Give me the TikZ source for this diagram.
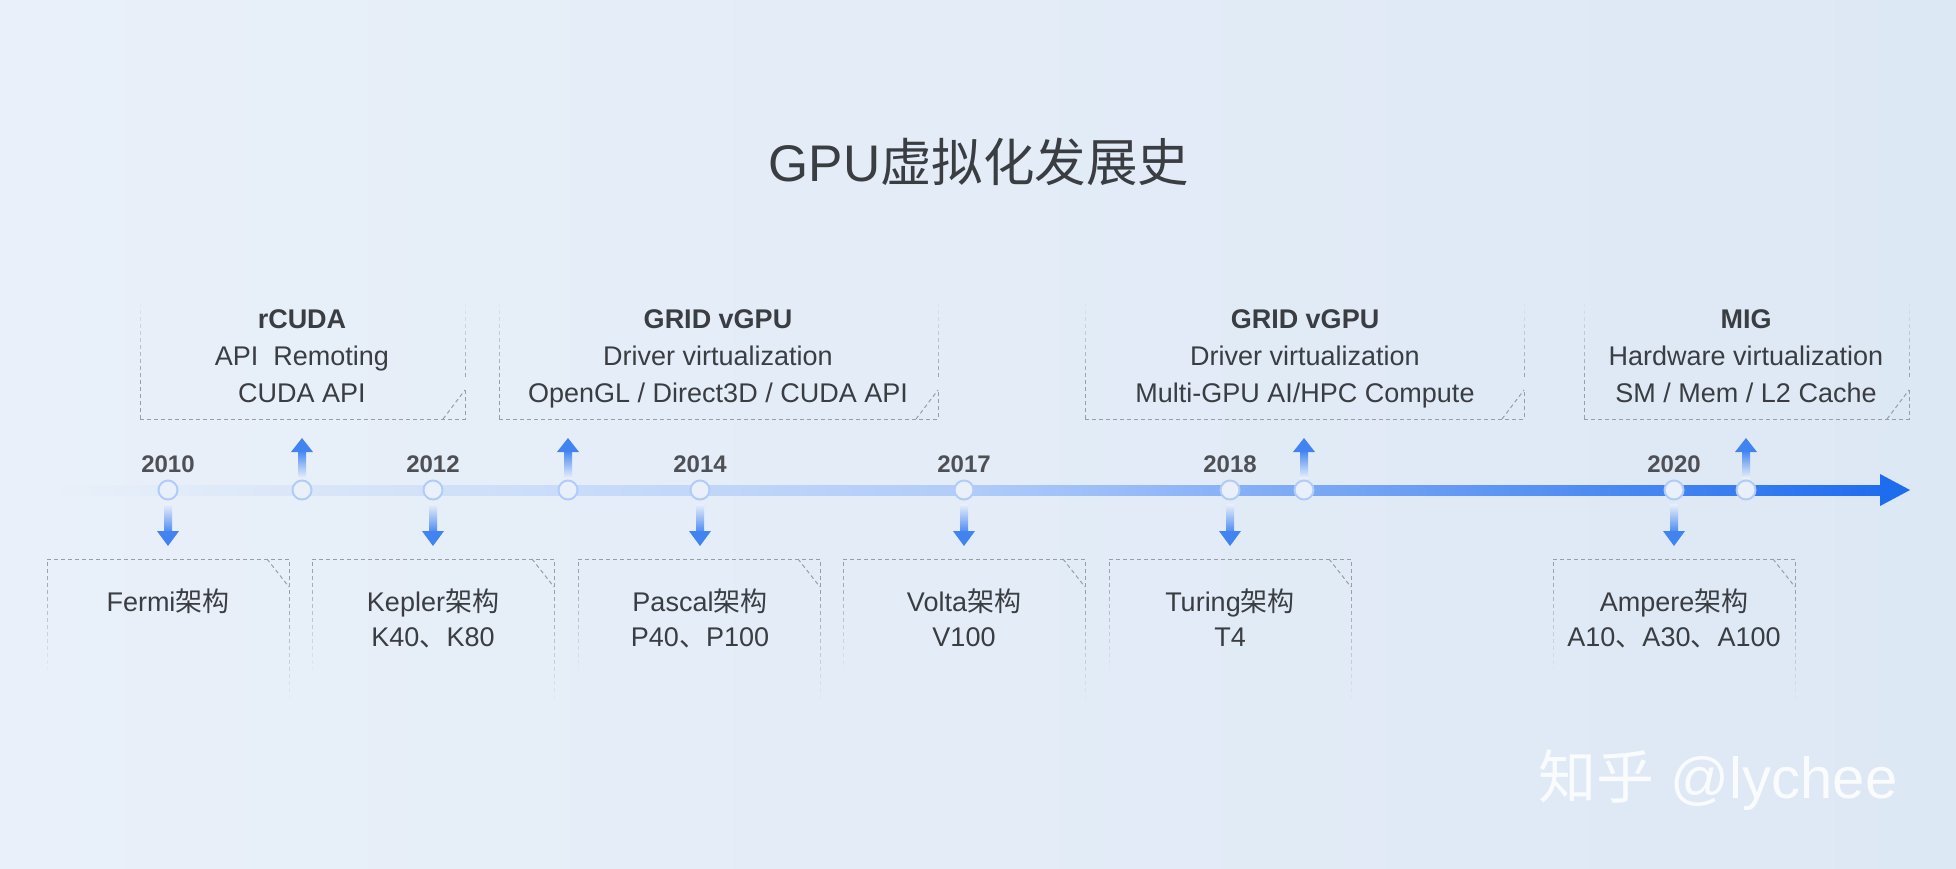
\documentclass[tikz,border=0pt]{standalone}
\usepackage{fontspec}
\setmainfont{Liberation Sans}
\newfontfamily\cjk{Noto Sans CJK SC}
\usetikzlibrary{shadings}
\definecolor{bgA}{HTML}{E9F0F9}
\definecolor{bgB}{HTML}{DDE8F5}
\definecolor{tblue}{HTML}{1F6DEF}
\definecolor{txt}{HTML}{3A3D42}
\definecolor{dgray}{HTML}{9A9EA4}
\begin{document}
\begin{tikzpicture}[x=1pt,y=-1pt,
  txtline/.style={font=\fontsize{27}{27}\selectfont,text=txt,inner sep=0,text height=20pt,text depth=6pt},
  headline/.style={font=\fontsize{27}{27}\selectfont\bfseries,text=txt,inner sep=0,text height=20pt,text depth=6pt},
  yearlbl/.style={font=\fontsize{24}{24}\selectfont\bfseries,text=txt!90,inner sep=0},
  dot/.style={circle,minimum size=19pt,inner sep=0,fill=bgA,draw=tblue!35,line width=2pt},
  dbox/.style={draw=dgray,line width=1pt,dash pattern=on 4pt off 3pt}]
\shade[left color=bgA,right color=bgB] (0,0) rectangle (1956,868);
\useasboundingbox (0,0) rectangle (1956,868);
\node[font=\fontsize{51.5}{52}\selectfont,text=txt,inner sep=0] (title) at (979,162) {GPU{\cjk 虚拟化发展史}};
% timeline
\shade[left color=bgA,right color=tblue,middle color=tblue!35] (50,485) rectangle (1885,495);
\fill[tblue] (1880,474) -- (1910,490) -- (1880,506) -- cycle;
% dots
\foreach \n/\x in {a/168,b/302,c/433,d/568,e/700,f/964,g/1230,h/1304,i/1674,j/1746}
  \node[dot] (\n) at (\x,490) {};
% years
\foreach \n/\y in {a/2010,c/2012,e/2014,f/2017,g/2018,i/2020}
  \node[yearlbl] at ([yshift=26pt]\n.center) {\y};
% up arrows
\foreach \n in {b,d,h,j}{
  \shade[top color=tblue!80,bottom color=bgA] ([xshift=-4pt,yshift=12pt]\n.center) rectangle ([xshift=4pt,yshift=38pt]\n.center);
  \fill[tblue!85] ([xshift=-11pt,yshift=38pt]\n.center) -- ([yshift=52pt]\n.center) -- ([xshift=11pt,yshift=38pt]\n.center) -- cycle;}
% down arrows
\foreach \n in {a,c,e,f,g,i}{
  \shade[bottom color=tblue!80,top color=bgA] ([xshift=-4pt,yshift=-14pt]\n.center) rectangle ([xshift=4pt,yshift=-42pt]\n.center);
  \fill[tblue!85] ([xshift=-11pt,yshift=-41pt]\n.center) -- ([yshift=-56pt]\n.center) -- ([xshift=11pt,yshift=-41pt]\n.center) -- cycle;}
% top boxes
\foreach \l/\r in {140/465,499/938,1085/1524,1584/1909}{
  \draw[dbox] (\l,419) -- (\r,419) -- (\r,390);
  \draw[dbox] (\r-22,419) -- (\r,390);
  \draw[dbox] (\l,419) -- (\l,380);
  \foreach \k in {0,...,11}{
    \pgfmathsetmacro\op{\k/12}
    \draw[dbox,opacity=\op] (\l,296+7*\k) -- ++(0,4);
    \draw[dbox,opacity=\op] (\r,296+7*\k) -- ++(0,4);}}
% bottom boxes
\foreach \l/\r in {47/289,312/554,578/820,843/1085,1109/1351,1553/1795}{
  \draw[dbox] (\l,559) -- (\r,559) -- (\r,587);
  \draw[dbox] (\r-22,559) -- (\r,587);
  \foreach \k in {0,...,15}{
    \pgfmathsetmacro\op{1-\k/16}
    \draw[dbox,opacity=\op] (\l,562+7*\k) -- ++(0,4);
    \draw[dbox,opacity=\op] (\r,590+7*\k) -- ++(0,4);}}
% top texts
\node[headline] (t1) at (302,321) {rCUDA};
\node[txtline] at (302,358) {API\ \ Remoting};
\node[txtline] at (302,395) {CUDA API};
\node[headline] (t2) at (718,321) {GRID vGPU};
\node[txtline] at (718,358) {Driver virtualization};
\node[txtline] at (718,395) {OpenGL / Direct3D / CUDA API};
\node[headline] (t3) at (1305,321) {GRID vGPU};
\node[txtline] at (1305,358) {Driver virtualization};
\node[txtline] at (1305,395) {Multi-GPU AI/HPC Compute};
\node[headline] (t4) at (1746,321) {MIG};
\node[txtline] at (1746,358) {Hardware virtualization};
\node[txtline] at (1746,395) {SM / Mem / L2 Cache};
% bottom texts
\node[txtline] at (168,604) {Fermi{\cjk 架构}};
\node[txtline] at (433,604) {Kepler{\cjk 架构}};
\node[txtline] at (433,639) {K40{\cjk 、}K80};
\node[txtline] at (700,604) {Pascal{\cjk 架构}};
\node[txtline] at (700,639) {P40{\cjk 、}P100};
\node[txtline] at (964,604) {Volta{\cjk 架构}};
\node[txtline] at (964,639) {V100};
\node[txtline] at (1230,604) {Turing{\cjk 架构}};
\node[txtline] at (1230,639) {T4};
\node[txtline] at (1674,604) {Ampere{\cjk 架构}};
\node[txtline] at (1674,639) {A10{\cjk 、}A30{\cjk 、}A100};
% watermark
\node[font=\fontsize{58}{58}\selectfont,text=white!85!bgB,inner sep=0] (wm) at (1718,780) {{\cjk 知乎} @lychee};
\end{tikzpicture}
\end{document}
